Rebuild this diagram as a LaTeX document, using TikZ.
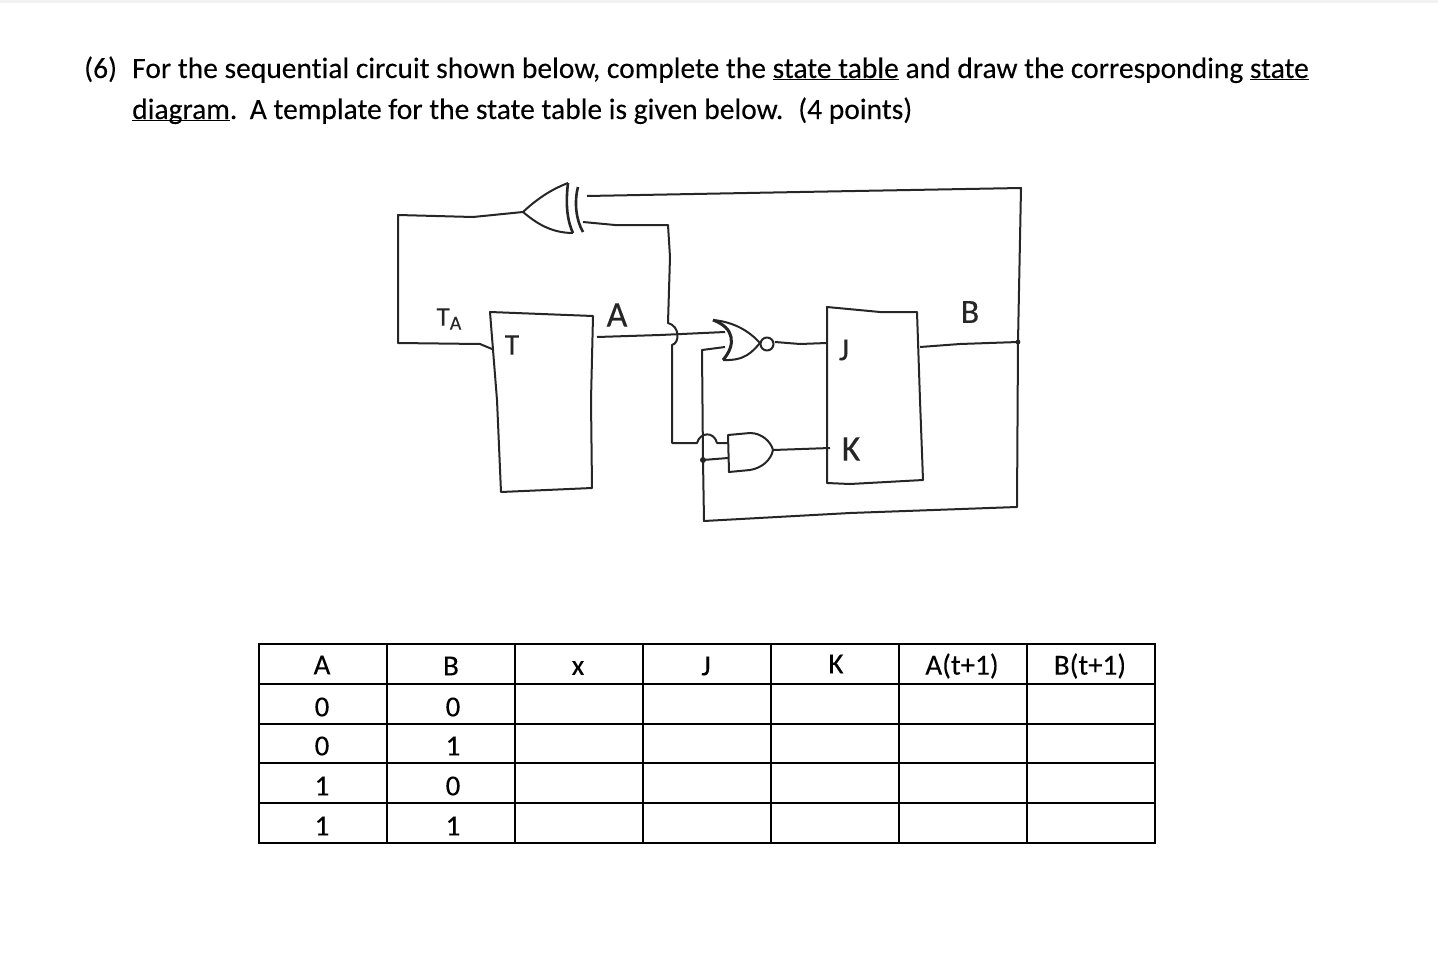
\documentclass[tikz,border=0pt]{standalone}
\usepackage{fontspec}
\setmainfont{Carlito}[Ligatures=NoCommon,FakeBold=0.12,AutoFakeBold=0.12]
\def\headsize{\bfseries\fontsize{29.5}{34}\selectfont}
\def\cellsize{\bfseries\fontsize{29}{32}\selectfont}
\def\ulword#1{\underline{\smash{#1}}}
\def\ffT{(490,312) -- (593,316) -- (591,400) -- (592,488) -- (501,492) -- (497,400) -- cycle}
\def\ffJK{(827,307) -- (880,312) -- (917,312) -- (920,400) -- (923,480) -- (850,484) -- (827,483) -- cycle}
\tikzset{
  wire/.style={line width=2pt, black!85, line join=round},
  grid/.style={line width=2pt, black},
  head/.style={anchor=base west, inner sep=0pt, text=black},
  cell/.style={inner sep=0pt, text=black},
  hand/.style={inner sep=0pt, text=black!85}
}
\begin{document}
\begin{tikzpicture}[x=1pt,y=-1pt]
  \useasboundingbox (0,0) rectangle (1438,977);
  \fill[black!5] (0,0) rectangle (1438,3);
  % question
  \node[head] (num) at (84,78) {\headsize (6)};
  \node[head] (lineone) at (132,78) {\headsize For the sequential circuit shown below, complete the \ulword{state table} and draw the corresponding \ulword{state}};
  \node[head] (linetwo) at (132,119) {\headsize \ulword{diagram}.\hspace{12.5pt}A template for the state table is given below.\hspace{15pt}(4 points)};
  % flip flops
  \draw[wire] \ffT;
  \draw[wire] \ffJK;
  \node[hand] (ta) at (449,319) {\fontsize{27}{27}\selectfont T\raisebox{-4pt}{\fontsize{20}{20}\selectfont A}};
  \node[hand] (tin) at (512,345) {\fontsize{30}{30}\selectfont T};
  \node[hand] (aout) at (617,315) {\fontsize{36}{36}\selectfont A};
  \node[hand] (bout) at (970,312) {\fontsize{34}{34}\selectfont B};
  \node[hand] (jin) at (844,350) {\fontsize{32}{32}\selectfont J};
  \node[hand] (kin) at (851,449) {\fontsize{36}{36}\selectfont K};
  % pins
  \coordinate (tpin) at (492,349);
  \coordinate (qa) at (597,337);
  \coordinate (jpin) at (827,343);
  \coordinate (kpin) at (830,448);
  \coordinate (qb) at (920,347);
  \coordinate (bdot) at (1018,342);
  \coordinate (kdot) at (703,460);
  \coordinate (xorout) at (523,212);
  \coordinate (xorb) at (587,196);
  \coordinate (xora) at (583,222);
  \coordinate (norin) at (725,332);
  \coordinate (norb) at (725,347);
  \coordinate (norout) at (775,342);
  \coordinate (andin) at (728,443);
  \coordinate (andb) at (728,458);
  \coordinate (andout) at (773,450);
  % xor
  \draw[wire] (xorout) .. controls (540,196) and (555,188) .. (568,183);
  \draw[wire] (xorout) .. controls (535,222) and (550,233) .. (573,233);
  \draw[wire, line width=2.6pt] (568,183) .. controls (566,200) and (566,218) .. (573,233);
  \draw[wire, line width=2.6pt] (578,187) .. controls (574,202) and (576,220) .. (583,232);
  % nor
  \draw[wire] (713,320) .. controls (735,322) and (750,332) .. (760,343);
  \draw[wire] (723,360) .. controls (745,361) and (752,352) .. (760,343);
  \draw[wire, line width=3pt] (713,320) .. controls (735,328) and (736,345) .. (723,360);
  \draw[wire] (767,344) circle (6.5);
  % and
  \draw[wire] (728,435) -- (729,472) -- (750,470) .. controls (762,468) and (771,460) .. (andout) .. controls (771,442) and (762,433) .. (750,433) -- cycle;
  % wires
  \draw[wire] (tpin) -- (480,344) -- (398,343) -- (398,215) -- (473,217) -- (xorout);
  \draw[wire] (xora) -- (615,225) -- (668,225) -- (670,257) -- (668,323) .. controls (680,326) and (680,343) .. (672,345) -- (672,443) -- (697,443) .. controls (700,432) and (714,431) .. (717,443) -- (andin);
  \draw[wire] (qa) -- (660,335) -- (norin);
  \draw[wire] (xorb) -- (800,192) -- (1021,188) -- (bdot) -- (1017,507) -- (850,513) -- (704,521) -- (kdot) -- (702,350) -- (norb);
  \draw[wire] (kdot) -- (andb);
  \draw[wire] (norout) -- (800,344) -- (jpin);
  \draw[wire] (andout) -- (kpin);
  \draw[wire] (qb) -- (960,344) -- (bdot);
  \fill[black!85] (bdot) circle (2.4);
  \fill[black!85] (kdot) circle (3);
  % table
  \foreach \x in {259,387,515,643,771,899,1027,1155}
    \draw[grid] (\x,644) -- (\x,843);
  \foreach \y in {644,684,724,763,803,843}
    \draw[grid] (258,\y) -- (1156,\y);
  \foreach \x/\y/\t/\n in {322/665/A/ha,451/666/B/hb,578/668/x/hx,706/666/J/hj,836/664/K/hk,962/666/A(t+1)/hap,1090/666/B(t+1)/hbp,
      322/707/0/aa,453/707/0/ba,322/746/0/ab,453/746/1/bb,322/786/1/ac,453/786/0/bc,322/826/1/ad,453/826/1/bd}
    \node[cell] (\n) at (\x,\y) {\cellsize \t};
\end{tikzpicture}
\end{document}
